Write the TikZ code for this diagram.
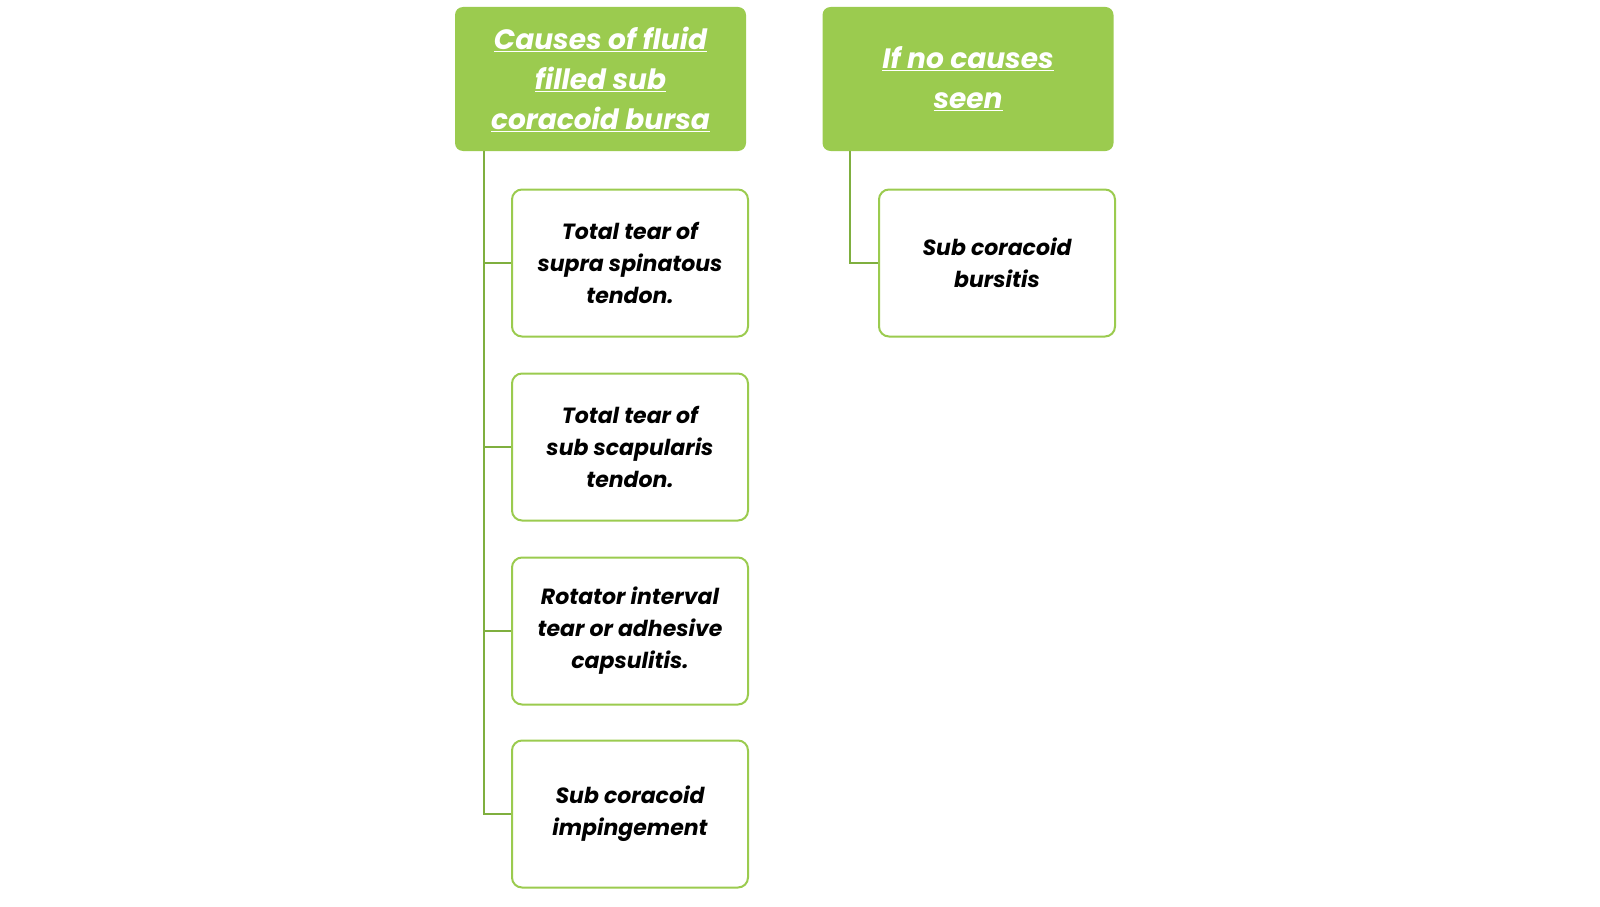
\documentclass[tikz,border=0pt]{standalone}
\usepackage{fontspec}
\setmainfont{Poppins}
\definecolor{gr}{HTML}{9BCB4F}
\definecolor{ln}{HTML}{7FAF3F}
\begin{document}
\begin{tikzpicture}[x=1pt,y=-1pt,
 head/.style={fill=gr,rounded corners=8pt,minimum width=291pt,minimum height=144pt,text=white,align=center,font=\fontsize{28}{40}\selectfont\bfseries\itshape,inner sep=0pt},
 box/.style={draw=gr,line width=2pt,fill=white,rounded corners=10pt,minimum width=236pt,minimum height=147pt,align=center,font=\fontsize{22}{32}\selectfont\bfseries\itshape,inner sep=0pt},
 con/.style={draw=ln,line width=2pt}]
\useasboundingbox (0,0) rectangle (1600,907);
\node[head] (h1) at (600.5,79) {\underline{Causes of fluid}\\\underline{filled sub}\\\underline{coracoid bursa}};
\node[head] (h2) at (968,79) {\underline{If no causes}\\\underline{seen}};
\node[box] (a) at (630,263) {Total tear of\\supra spinatous\\tendon.};
\node[box] (b) at (630,447) {Total tear of\\sub scapularis\\tendon.};
\node[box] (c) at (630,631) {Rotator interval\\tear or adhesive\\capsulitis.};
\node[box] (d) at (630,814) {Sub coracoid\\impingement};
\node[box] (e) at (997,263) {Sub coracoid\\bursitis};
\coordinate (v1) at (484,151);
\coordinate (v2) at (850,151);
\draw[con] (v1) |- (a.west);
\draw[con] (v1) |- (b.west);
\draw[con] (v1) |- (c.west);
\draw[con] (v1) |- (d.west);
\draw[con] (v2) |- (e.west);
\end{tikzpicture}
\end{document}
